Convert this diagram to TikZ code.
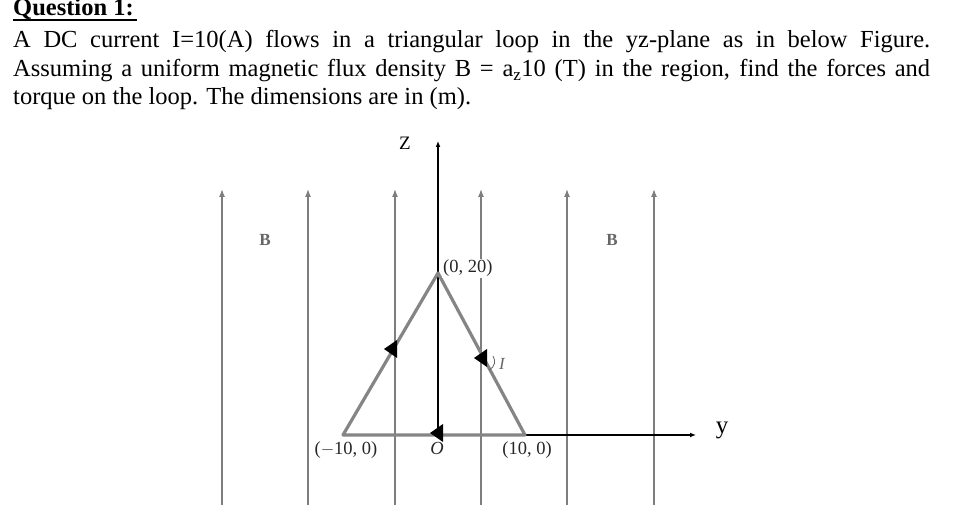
\documentclass[tikz,border=0pt]{standalone}
\usepackage{fontspec}
\setmainfont{Liberation Serif}
\usetikzlibrary{arrows.meta}

\definecolor{fieldgray}{HTML}{7E7E7E}
\definecolor{loopgray}{HTML}{858585}
\definecolor{labelgray}{HTML}{666666}

\tikzset{
  fieldline/.style={fieldgray, line width=1.2pt, -{Latex[length=8pt,width=6pt]}},
  axisline/.style={black, line width=1.5pt, -{Latex[length=6pt,width=5pt]}},
  loopline/.style={loopgray, line width=3.2pt, line join=round},
  textline/.style={anchor=base west, inner sep=0pt, font=\fontsize{24.5}{28.5}\selectfont},
  ptlabel/.style={inner sep=0pt, text=black!85, font=\fontsize{18.5}{20}\selectfont},
  flabel/.style={inner sep=0pt, text=labelgray, font=\fontsize{17}{18}\selectfont\bfseries},
  headmark/.pic={\fill[black] (-7,0) -- (6,-9) -- (6,9) -- cycle;}
}

\begin{document}
\begin{tikzpicture}[x=1pt,y=-1pt]
		\useasboundingbox (0,0) rectangle (978,526);

		% question text
		\node[textline] (title) at (13,16) {\bfseries Question 1:};
		\draw[line width=2pt] (13,20) -- (137,20);
		\node[textline] (line1) at (13,48) {\makebox[917pt][s]{A DC current I=10(A) flows in a triangular loop in the yz-plane as in below Figure.}};
		\node[textline] (line2) at (13,76.5) {\makebox[917pt][s]{Assuming a uniform magnetic flux density B = a\textsubscript{z}10 (T) in the region, find the forces and}};
		\node[textline] (line3) at (13,105) {torque on the loop. The dimensions are in (m).};

		% field lines
		\foreach \fx in {222,308,395,481,567,654}
			\draw[fieldline] (\fx,505) -- (\fx,189);
		\node[flabel] (bleft) at (265,240) {B};
		\node[flabel] (bright) at (612,240) {B};

		% loop corners
		\coordinate (orig) at (438,435);
		\coordinate (apex) at (438,273);
		\coordinate (left) at (343,435);
		\coordinate (right) at (525,435);
		\coordinate (ztip) at (438,141);
		\coordinate (ytip) at (696,435);

		% axes
		\draw[axisline] (orig) -- (ztip);
		\draw[axisline] (right) -- (ytip);
		\node[inner sep=0pt, font=\fontsize{19}{20}\selectfont] (zlab) at (405,143) {Z};
		\node[inner sep=0pt, font=\fontsize{25}{26}\selectfont] (ylab) at (722,430) {y};

		% triangular loop
		\draw[loopline] (left) -- (apex) -- (right) -- cycle;
		\pic at (391,349) {headmark};
		\pic at (481,358) {headmark};
		\pic at (437,433) {headmark};
		\draw[labelgray, line width=0.8pt] (489,370) .. controls (495,367) and (496,361) .. (493,356);
		\node[inner sep=0pt, text=labelgray, font=\fontsize{17}{18}\selectfont\itshape] (ilab) at (502,364) {I};

		% point labels
		\node[ptlabel, anchor=base west, fill=white, inner sep=1.5pt] (papex) at (441.5,273) {(0, 20)};
		\node[ptlabel, anchor=base] (pleft) at (346,455) {($-$10, 0)};
		\node[ptlabel, anchor=base] (porig) at (437,455) {\itshape O};
		\node[ptlabel, anchor=base] (pright) at (527,455) {(10, 0)};
	\end{tikzpicture}
\end{document}
